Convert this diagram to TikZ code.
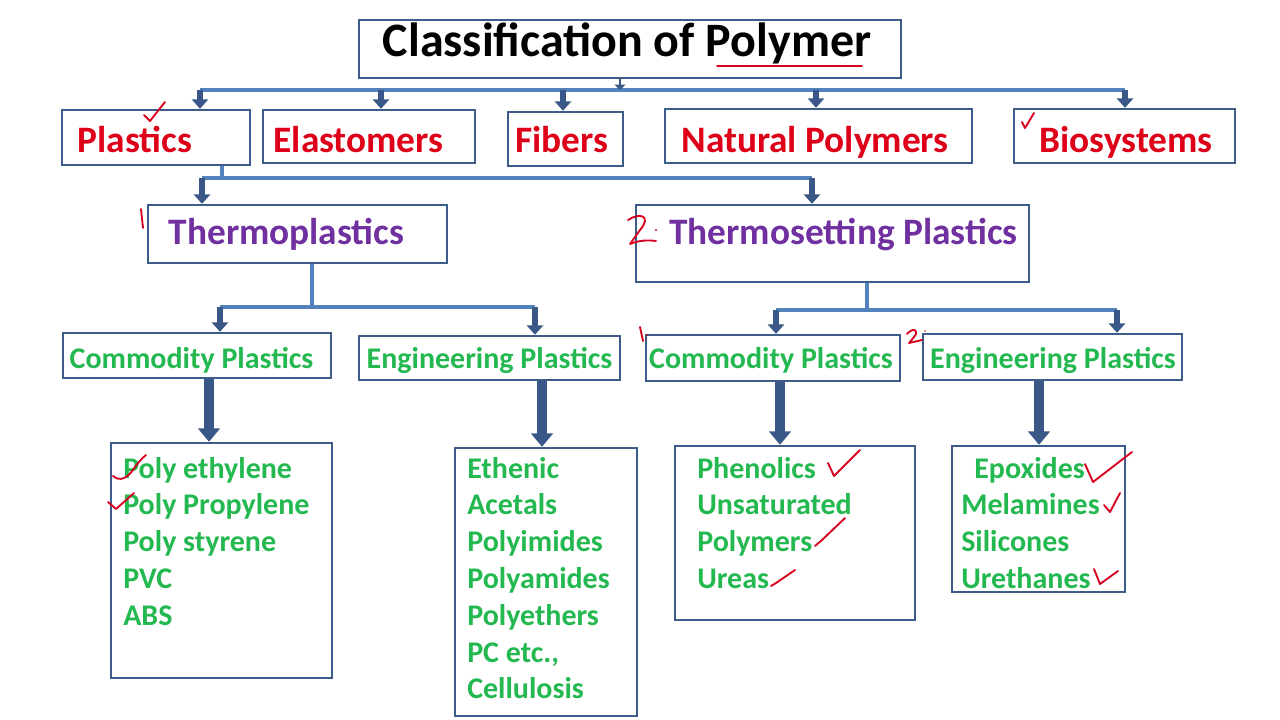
\documentclass[tikz,border=0pt]{standalone}
\usepackage{fontspec}
\setmainfont{Carlito}
\usetikzlibrary{fit,arrows.meta}
\definecolor{boxc}{RGB}{62,92,138}
\definecolor{busc}{RGB}{84,130,188}
\definecolor{dropc}{RGB}{58,88,135}
\definecolor{redt}{RGB}{222,0,24}
\definecolor{purp}{RGB}{112,48,160}
\definecolor{grn}{RGB}{36,184,80}
\definecolor{ink}{RGB}{215,0,30}
\begin{document}
\begin{tikzpicture}[x=0.75pt,y=-0.75pt,
  box/.style={draw=boxc, line width=1.8pt, inner sep=0pt},
  bus/.style={draw=busc, line width=2.4pt},
  drop/.style={draw=dropc, line width=4.2pt, -{Triangle[length=7pt,width=12pt]}},
  small/.style={draw=dropc, line width=2.2pt, -{Triangle[length=4pt,width=8pt]}},
  big/.style={draw=dropc, line width=7pt, -{Triangle[length=10pt,width=16pt]}},
  titletext/.style={text=black, font=\bfseries\fontsize{36}{40}\selectfont, inner sep=0pt, anchor=base},
  lvlone/.style={text=redt, font=\bfseries\fontsize{28}{32}\selectfont, inner sep=0pt, anchor=base},
  lvltwo/.style={text=purp, font=\bfseries\fontsize{28}{32}\selectfont, inner sep=0pt, anchor=base},
  lvlthree/.style={text=grn, font=\bfseries\fontsize{22.5}{26}\selectfont, inner sep=0pt, anchor=base},
  item/.style={text=grn, font=\bfseries\fontsize{22.5}{26}\selectfont, inner sep=0pt, anchor=base west},
  redmark/.style={draw=ink, line width=1.4pt, line cap=round, line join=round}]
\useasboundingbox[fill=white] (0,0) rectangle (1280,720);

% boxes
\node[box, fit={(359,20)(901,78)}] (title) {};
\node[box, fit={(62,110)(250,165)}] (plastics) {};
\node[box, fit={(263,110)(475,163)}] (elast) {};
\node[box, fit={(508,112)(623,166)}] (fibers) {};
\node[box, fit={(665,109)(972,163)}] (natural) {};
\node[box, fit={(1014,109)(1235,163)}] (bio) {};
\node[box, fit={(148,205)(447,263)}] (thermop) {};
\node[box, fit={(636,205)(1029,282)}] (thermos) {};
\node[box, fit={(63,333)(331,378)}] (comL) {};
\node[box, fit={(359,336)(620,380)}] (engL) {};
\node[box, fit={(646,335)(900,381)}] (comR) {};
\node[box, fit={(923,334)(1182,380)}] (engR) {};
\node[box, fit={(111,443)(332,678)}] (listCL) {};
\node[box, fit={(455,448)(637,716)}] (listEL) {};
\node[box, fit={(675,446)(915,620)}] (listCR) {};
\node[box, fit={(952,446)(1125,592)}] (listER) {};

% texts
\node[titletext] (ttitle) at (627,57) {Classification of Polymer};
\node[lvlone] (tplastics) at (135,153) {Plastics};
\node[lvlone] (telast) at (358.5,153) {Elastomers};
\node[lvlone] (tfibers) at (562,153) {Fibers};
\node[lvlone] (tnatural) at (815,153) {Natural Polymers};
\node[lvlone] (tbio) at (1126,153) {Biosystems};
\node[lvltwo] (tthermop) at (286.5,244) {Thermoplastics};
\node[lvltwo] (tthermos) at (843.5,244) {Thermosetting Plastics};
\node[lvlthree] (tcomL) at (191.5,368) {Commodity Plastics};
\node[lvlthree] (tengL) at (489.5,368) {Engineering Plastics};
\node[lvlthree] (tcomR) at (771,368) {Commodity Plastics};
\node[lvlthree] (tengR) at (1053,368) {Engineering Plastics};

\foreach \t [count=\i] in {Poly ethylene, Poly Propylene, Poly styrene, PVC, ABS}
  \node[item] (cl\i) at (123,{478+36.8*(\i-1)}) {\t};
\foreach \t [count=\i] in {Ethenic, Acetals, Polyimides, Polyamides, Polyethers, {PC etc.,}, Cellulosis}
  \node[item] (el\i) at (467,{478+36.8*(\i-1)}) {\t};
\foreach \t [count=\i] in {Phenolics, Unsaturated, Polymers, Ureas}
  \node[item] (cr\i) at (697,{478+36.8*(\i-1)}) {\t};
\node[item] (er1) at (974,478) {Epoxides};
\foreach \t [count=\i from 2] in {Melamines, Silicones, Urethanes}
  \node[item] (er\i) at (961,{478+36.8*(\i-1)}) {\t};

% level 1 connectors
\coordinate (t0) at (620,90);
\coordinate (d1) at (200,90);
\coordinate (d2) at (381,90);
\coordinate (d3) at (563,90);
\coordinate (d4) at (816,90);
\coordinate (d5) at (1125,90);
\draw[bus] (d1) -- (d5);
\draw[small] (title.south -| t0) -- (t0);
\draw[drop] (d1) -- (d1 |- plastics.north);
\draw[drop] (d2) -- (d2 |- elast.north);
\draw[drop] (d3) -- (d3 |- fibers.north);
\draw[drop] (d4) -- (d4 |- natural.north);
\draw[drop] (d5) -- (d5 |- bio.north);

% plastics -> thermo
\coordinate (p2) at (222,178);
\coordinate (d6) at (202,178);
\coordinate (d7) at (812,178);
\draw[bus] (plastics.south -| p2) -- (p2);
\draw[bus] (d6) -- (d7);
\draw[drop] (d6) -- (d6 |- thermop.north);
\draw[drop] (d7) -- (d7 |- thermos.north);

% thermoplastics -> commodity / engineering
\coordinate (p3) at (312,307);
\coordinate (d8) at (220,307);
\coordinate (d9) at (535,307);
\draw[bus] (thermop.south -| p3) -- (p3);
\draw[bus] (d8) -- (d9);
\draw[drop] (d8) -- (d8 |- comL.north);
\draw[drop] (d9) -- (d9 |- engL.north);

% thermosetting -> commodity / engineering
\coordinate (p4) at (867,310);
\coordinate (d10) at (776,310);
\coordinate (d11) at (1117,310);
\draw[bus] (thermos.south -| p4) -- (p4);
\draw[bus] (d10) -- (d11);
\draw[drop] (d10) -- (d10 |- comR.north);
\draw[drop] (d11) -- (d11 |- engR.north);

% big arrows to lists
\coordinate (g1) at (209,410);
\coordinate (g2) at (542,410);
\coordinate (g3) at (780,410);
\coordinate (g4) at (1039,410);
\draw[big] (comL.south -| g1) -- (g1 |- listCL.north);
\draw[big] (engL.south -| g2) -- (g2 |- listEL.north);
\draw[big] (comR.south -| g3) -- (g3 |- listCR.north);
\draw[big] (engR.south -| g4) -- (g4 |- listER.north);

% red hand annotations
\draw[redmark] (717,66) -- (862,66);
\draw[redmark] (144,115) -- (150,121) -- (165,102);
\draw[redmark] (1022,122) -- (1025,128) -- (1034,113);
\draw[redmark] (141,209) -- (143,228);
\draw[redmark] (628,220) .. controls (640,212) and (652,216) .. (640,230) -- (630,244) .. controls (640,240) and (648,240) .. (656,241);
\fill[ink] (656,230) circle (1.2);
\draw[redmark] (640,327) -- (643,341);
\fill[ink] (647,335) circle (0.9);
\draw[redmark] (907,334) .. controls (913,327) and (920,330) .. (914,337) -- (909,343) -- (922,340);
\fill[ink] (925,331) circle (0.9);
\draw[redmark] (113,476) .. controls (120,482) and (127,478) .. (133,470) .. controls (137,464) and (140,460) .. (146,455);
\draw[redmark] (108,502) -- (116,509) -- (134,493);
\draw[redmark] (828,463) -- (834,476) -- (860,450);
\draw[redmark] (815,546) -- (822,540) -- (845,518);
\draw[redmark] (771,586) -- (776,583) -- (795,570);
\draw[redmark] (1085,464) -- (1093,482) -- (1132,452);
\draw[redmark] (1104,505) -- (1110,512) -- (1120,493);
\draw[redmark] (1094,569) -- (1100,584) -- (1118,571);
\end{tikzpicture}
\end{document}
